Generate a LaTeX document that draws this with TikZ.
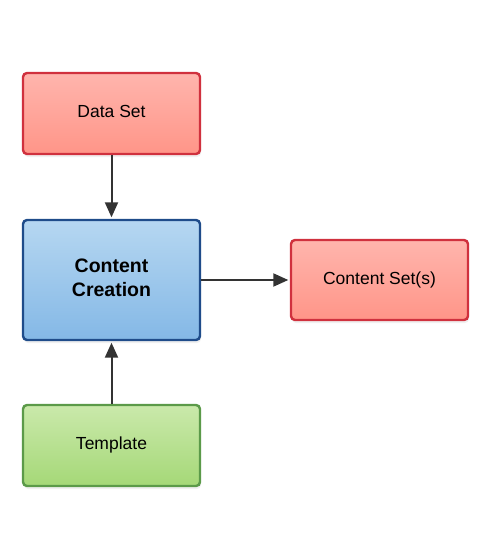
\documentclass[tikz,border=0pt]{standalone}
\usepackage{fontspec}
\setmainfont{Liberation Sans}
\usetikzlibrary{arrows.meta,shapes,positioning,shadows}
\definecolor{redtop}{HTML}{FFB5AD}
\definecolor{redbot}{HTML}{FF9588}
\definecolor{redline}{HTML}{D0313E}
\definecolor{bluetop}{HTML}{B6D7F1}
\definecolor{bluebot}{HTML}{84B8E6}
\definecolor{blueline}{HTML}{1F4C8A}
\definecolor{greentop}{HTML}{CAE9AB}
\definecolor{greenbot}{HTML}{A5D877}
\definecolor{greenline}{HTML}{5B9A49}
\definecolor{arrowgray}{HTML}{333333}

\begin{document}
\begin{tikzpicture}[x=1pt,y=-1pt,
                    box/.style={rectangle, rounded corners=4pt, line width=2.4pt,
                        minimum width=177pt, minimum height=81pt, inner sep=0pt,
                        align=center, font=\fontsize{17.5}{21}\selectfont, text depth=4pt,
                        drop shadow={opacity=0.12, shadow xshift=1pt, shadow yshift=-3pt}},
                    redbox/.style={box, draw=redline, top color=redtop, bottom color=redbot},
                    bluebox/.style={box, draw=blueline, top color=bluetop, bottom color=bluebot,
                        minimum height=120pt, font=\fontsize{19.5}{24}\selectfont\bfseries},
                    greenbox/.style={box, draw=greenline, top color=greentop, bottom color=greenbot},
                    link/.style={draw=arrowgray, line width=2pt,
                        -{Triangle[length=15pt,width=13pt]}, shorten >=1.5pt}]
                    \useasboundingbox (0,0) rectangle (492,560);
                    \node [redbox] (dataset) at (111.5,113.5) {Data Set};
                    \node [bluebox] (creation) at (111.5,280) {Content\\Creation};
                    \node [redbox, minimum height=80pt] (contentset) at (379.5,280) {Content Set(s)};
                    \node [greenbox] (template) at (111.5,445.5) {Template};
                    \draw [link] (dataset) -- (creation);
                    \draw [link] (template) -- (creation);
                    \draw [link] (creation) -- (contentset);
                \end{tikzpicture}
\end{document}
